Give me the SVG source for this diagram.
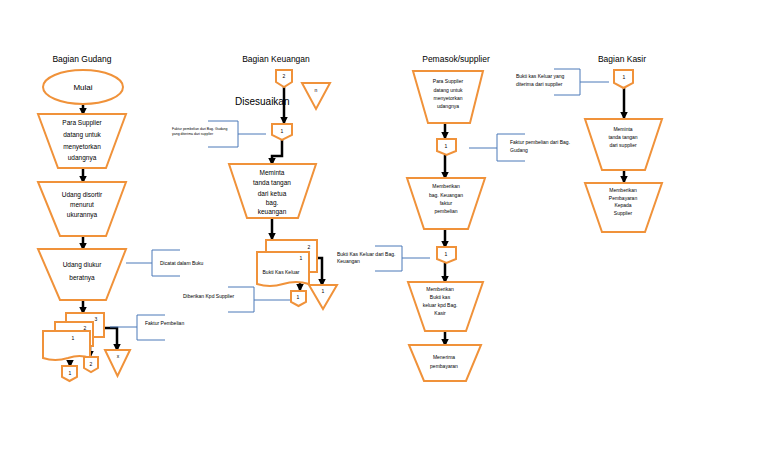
<svg xmlns="http://www.w3.org/2000/svg" width="768" height="466" viewBox="0 0 768 466">
<defs>
<marker id="ah" viewBox="0 0 10 10" refX="8" refY="5" markerWidth="3" markerHeight="3" orient="auto"><path d="M0,0 L10,5 L0,10 z" fill="#000"/></marker>
<style>
.s{fill:#fff;stroke:#f0923a;stroke-width:2}
.c{fill:none;stroke:#000;stroke-width:2.5;marker-end:url(#ah)}
.b{fill:none;stroke:#4a78b8;stroke-width:1}
text{font-family:"Liberation Sans",Arial,sans-serif;fill:#000}
.t{font-size:8px;text-anchor:middle}
.m{font-size:6.5px;text-anchor:middle}
.x{font-size:5px;text-anchor:middle}
.a{font-size:5px}
.h{font-size:8.5px;text-anchor:middle}
</style>
</defs>
<rect width="768" height="466" fill="#fff"/>
<g id="titles">
<text class="h" x="82" y="62">Bagian Gudang</text>
<text class="h" x="276" y="62">Bagian Keuangan</text>
<text class="h" x="456" y="62">Pemasok/supplier</text>
<text class="h" x="622" y="62">Bagian Kasir</text>
<text x="235" y="105" font-size="10">Disesuaikan</text>
</g>
<g id="connectors">
<path class="c" d="M83,105 V114"/>
<path class="c" d="M83,169 V182"/>
<path class="c" d="M83,237 V249"/>
<path class="c" d="M83,301 V313"/>
<path class="c" d="M104,328 H117 V350"/>
<path class="c" d="M70,360 V366"/>
<path class="c" d="M90,346 V357"/>
<path class="c" d="M284,87 V123"/>
<path class="c" d="M282,140 V156 H272 V164"/>
<path class="c" d="M272,218 V239"/>
<path class="c" d="M300,283 V290"/>
<path class="c" d="M317,258 H322 V285"/>
<path class="c" d="M445,123 V138"/>
<path class="c" d="M445,155 V178"/>
<path class="c" d="M445,229 V247"/>
<path class="c" d="M445,263 V282"/>
<path class="c" d="M445,331 V345"/>
<path class="c" d="M624,88 V118"/>
<path class="c" d="M624,170 V182"/>
<path class="b" d="M126,263 H152 M180,250 H152 V276 H180"/>
<path class="b" d="M110,327 H137 M165,315 H137 V340 H165"/>
<path class="b" d="M266,134 H238 M208,121 H238 V147 H208"/>
<path class="b" d="M290,300 H254 M228,287 H254 V312 H228"/>
<path class="b" d="M430,258 H402 M375,246 H402 V271 H375"/>
<path class="b" d="M469,148 H497 M525,134 H497 V161 H525"/>
<path class="b" d="M609,82 H580 M554,69 H580 V95 H554"/>
</g>
<g id="gudang">
<g id="mulai"><ellipse class="s" cx="83" cy="87" rx="40" ry="17"/><text class="t" x="83" y="90" font-size="9">Mulai</text></g>
<g id="g1"><path class="s" d="M38,114 H126 L106,168 H58 Z"/><text class="m"><tspan x="82" y="125">Para Supplier</tspan><tspan x="82" y="137">datang untuk</tspan><tspan x="82" y="149">menyetorkan</tspan><tspan x="82" y="160">udangnya</tspan></text></g>
<g id="g2"><path class="s" d="M38,182 H126 L106,236 H60 Z"/><text class="m"><tspan x="82" y="197">Udang disortir</tspan><tspan x="82" y="207">menurut</tspan><tspan x="82" y="217">ukurannya</tspan></text></g>
<g id="g3"><path class="s" d="M38,249 H126 L106,300 H60 Z"/><text class="m"><tspan x="82" y="267">Udang diukur</tspan><tspan x="82" y="280">beratnya</tspan></text></g>
<g id="gdocs">
<path class="s" d="M66,313 H104 V337 H66 Z"/><text class="x" x="96" y="321">3</text>
<path class="s" d="M55,322 H93 V346 H55 Z"/><text class="x" x="85" y="330">2</text>
<path class="s" d="M43,331 H90 V358 Q80,354 68,358 Q55,362 43,358 Z"/><text class="x" x="73" y="340">1</text>
</g>
<g id="goff1"><path class="s" d="M62,366 H77 V377 L69.5,381 L62,377 Z"/><text class="x" x="70" y="375">1</text></g>
<g id="goff2"><path class="s" d="M84,357 H98 V368 L91,372 L84,368 Z"/><text class="x" x="91" y="366">2</text></g>
<g id="gtri"><path class="s" d="M105,350 H130 L117.5,376 Z"/><text class="x" x="118" y="358">x</text></g>
<text class="a" x="160" y="265">Dicatat dalam Buku</text>
<text class="a" x="145" y="325">Faktur Pembelian</text>
</g>
<g id="keuangan">
<g id="koff2"><path class="s" d="M276,70 H292 V82 L284,87 L276,82 Z"/><text class="x" x="284" y="78">2</text></g>
<g id="ktri"><path class="s" d="M302,83 H330 L316,109 Z"/><text class="x" x="316" y="92">n</text></g>
<g id="koff1"><path class="s" d="M272,124 H292 V135 L282,140 L272,135 Z"/><text class="x" x="282" y="133">1</text></g>
<text font-size="3.5"><tspan x="172" y="130">Faktur pembelian dari Bag. Gudang</tspan><tspan x="172" y="135">yang diterima dari supplier</tspan></text>
<g id="k1"><path class="s" d="M229,164 H316 L298,218 H247 Z"/><text class="m"><tspan x="272" y="175">Meminta</tspan><tspan x="272" y="185">tanda tangan</tspan><tspan x="272" y="196">dari ketua</tspan><tspan x="272" y="205">bag.</tspan><tspan x="272" y="214">keuangan</tspan></text></g>
<g id="kdocs">
<path class="s" d="M266,240 H317 V272 H266 Z"/><text class="x" x="309" y="249">2</text>
<path class="s" d="M257,252 H309 V284 Q296,280 283,284 Q270,288 257,284 Z"/><text class="x" x="301" y="260">1</text>
<text class="x" x="281" y="274">Bukti Kas Keluar</text>
</g>
<g id="koff3"><path class="s" d="M291,291 H306 V302 L298.5,306 L291,302 Z"/><text class="x" x="298" y="299">1</text></g>
<g id="ktri2"><path class="s" d="M309,285 H337 L323,309 Z"/><text class="x" x="323" y="293">1</text></g>
<text class="a" x="183" y="298">Diberikan Kpd Supplier</text>
<text class="a"><tspan x="337" y="256">Bukti Kas Keluar dari Bag.</tspan><tspan x="337" y="263">Keuangan</tspan></text>
</g>
<g id="pemasok">
<g id="p1"><path class="s" d="M413,71 H483 L470,123 H428 Z"/><text class="x"><tspan x="448" y="83">Para Supplier</tspan><tspan x="448" y="92">datang untuk</tspan><tspan x="448" y="100">menyetorkan</tspan><tspan x="448" y="108">udangnya</tspan></text></g>
<g id="poff1"><path class="s" d="M437,139 H456 V151 L446.5,155 L437,151 Z"/><text class="x" x="446" y="148">1</text></g>
<text class="a"><tspan x="510" y="144">Faktur pembelian dari Bag.</tspan><tspan x="510" y="152">Gudang</tspan></text>
<g id="p2"><path class="s" d="M407,178 H485 L468,229 H424 Z"/><text class="x"><tspan x="446" y="188">Memberikan</tspan><tspan x="446" y="197">bag. Keuangan</tspan><tspan x="446" y="205">faktur</tspan><tspan x="446" y="213">pembelian</tspan></text></g>
<g id="poff2"><path class="s" d="M437,247 H456 V259 L446.5,263 L437,259 Z"/><text class="x" x="446" y="256">1</text></g>
<g id="p3"><path class="s" d="M408,282 H483 L466,331 H425 Z"/><text class="x"><tspan x="440" y="291">Memberikan</tspan><tspan x="440" y="299">Bukti kas</tspan><tspan x="440" y="307">keluar kpd Bag.</tspan><tspan x="440" y="315">Kasir</tspan></text></g>
<g id="p4"><path class="s" d="M409,345 H481 L466,381 H424 Z"/><text class="x"><tspan x="444" y="359">Menerima</tspan><tspan x="444" y="368">pembayaran</tspan></text></g>
<text class="a"><tspan x="516" y="78">Bukti kas Keluar yang</tspan><tspan x="516" y="86">diterima dari supplier</tspan></text>
</g>
<g id="kasir">
<g id="koffk"><path class="s" d="M614,70 H633 V83 L623.5,88 L614,83 Z"/><text class="x" x="624" y="79">1</text></g>
<g id="ks1"><path class="s" d="M585,119 H662 L645,170 H602 Z"/><text class="x"><tspan x="623" y="131">Meminta</tspan><tspan x="623" y="139">tanda tangan</tspan><tspan x="623" y="147">dari supplier</tspan></text></g>
<g id="ks2"><path class="s" d="M585,183 H662 L645,232 H602 Z"/><text class="x"><tspan x="623" y="192">Memberikan</tspan><tspan x="623" y="200">Pembayaran</tspan><tspan x="623" y="207">Kepada</tspan><tspan x="623" y="215">Supplier</tspan></text></g>
</g>
</svg>
